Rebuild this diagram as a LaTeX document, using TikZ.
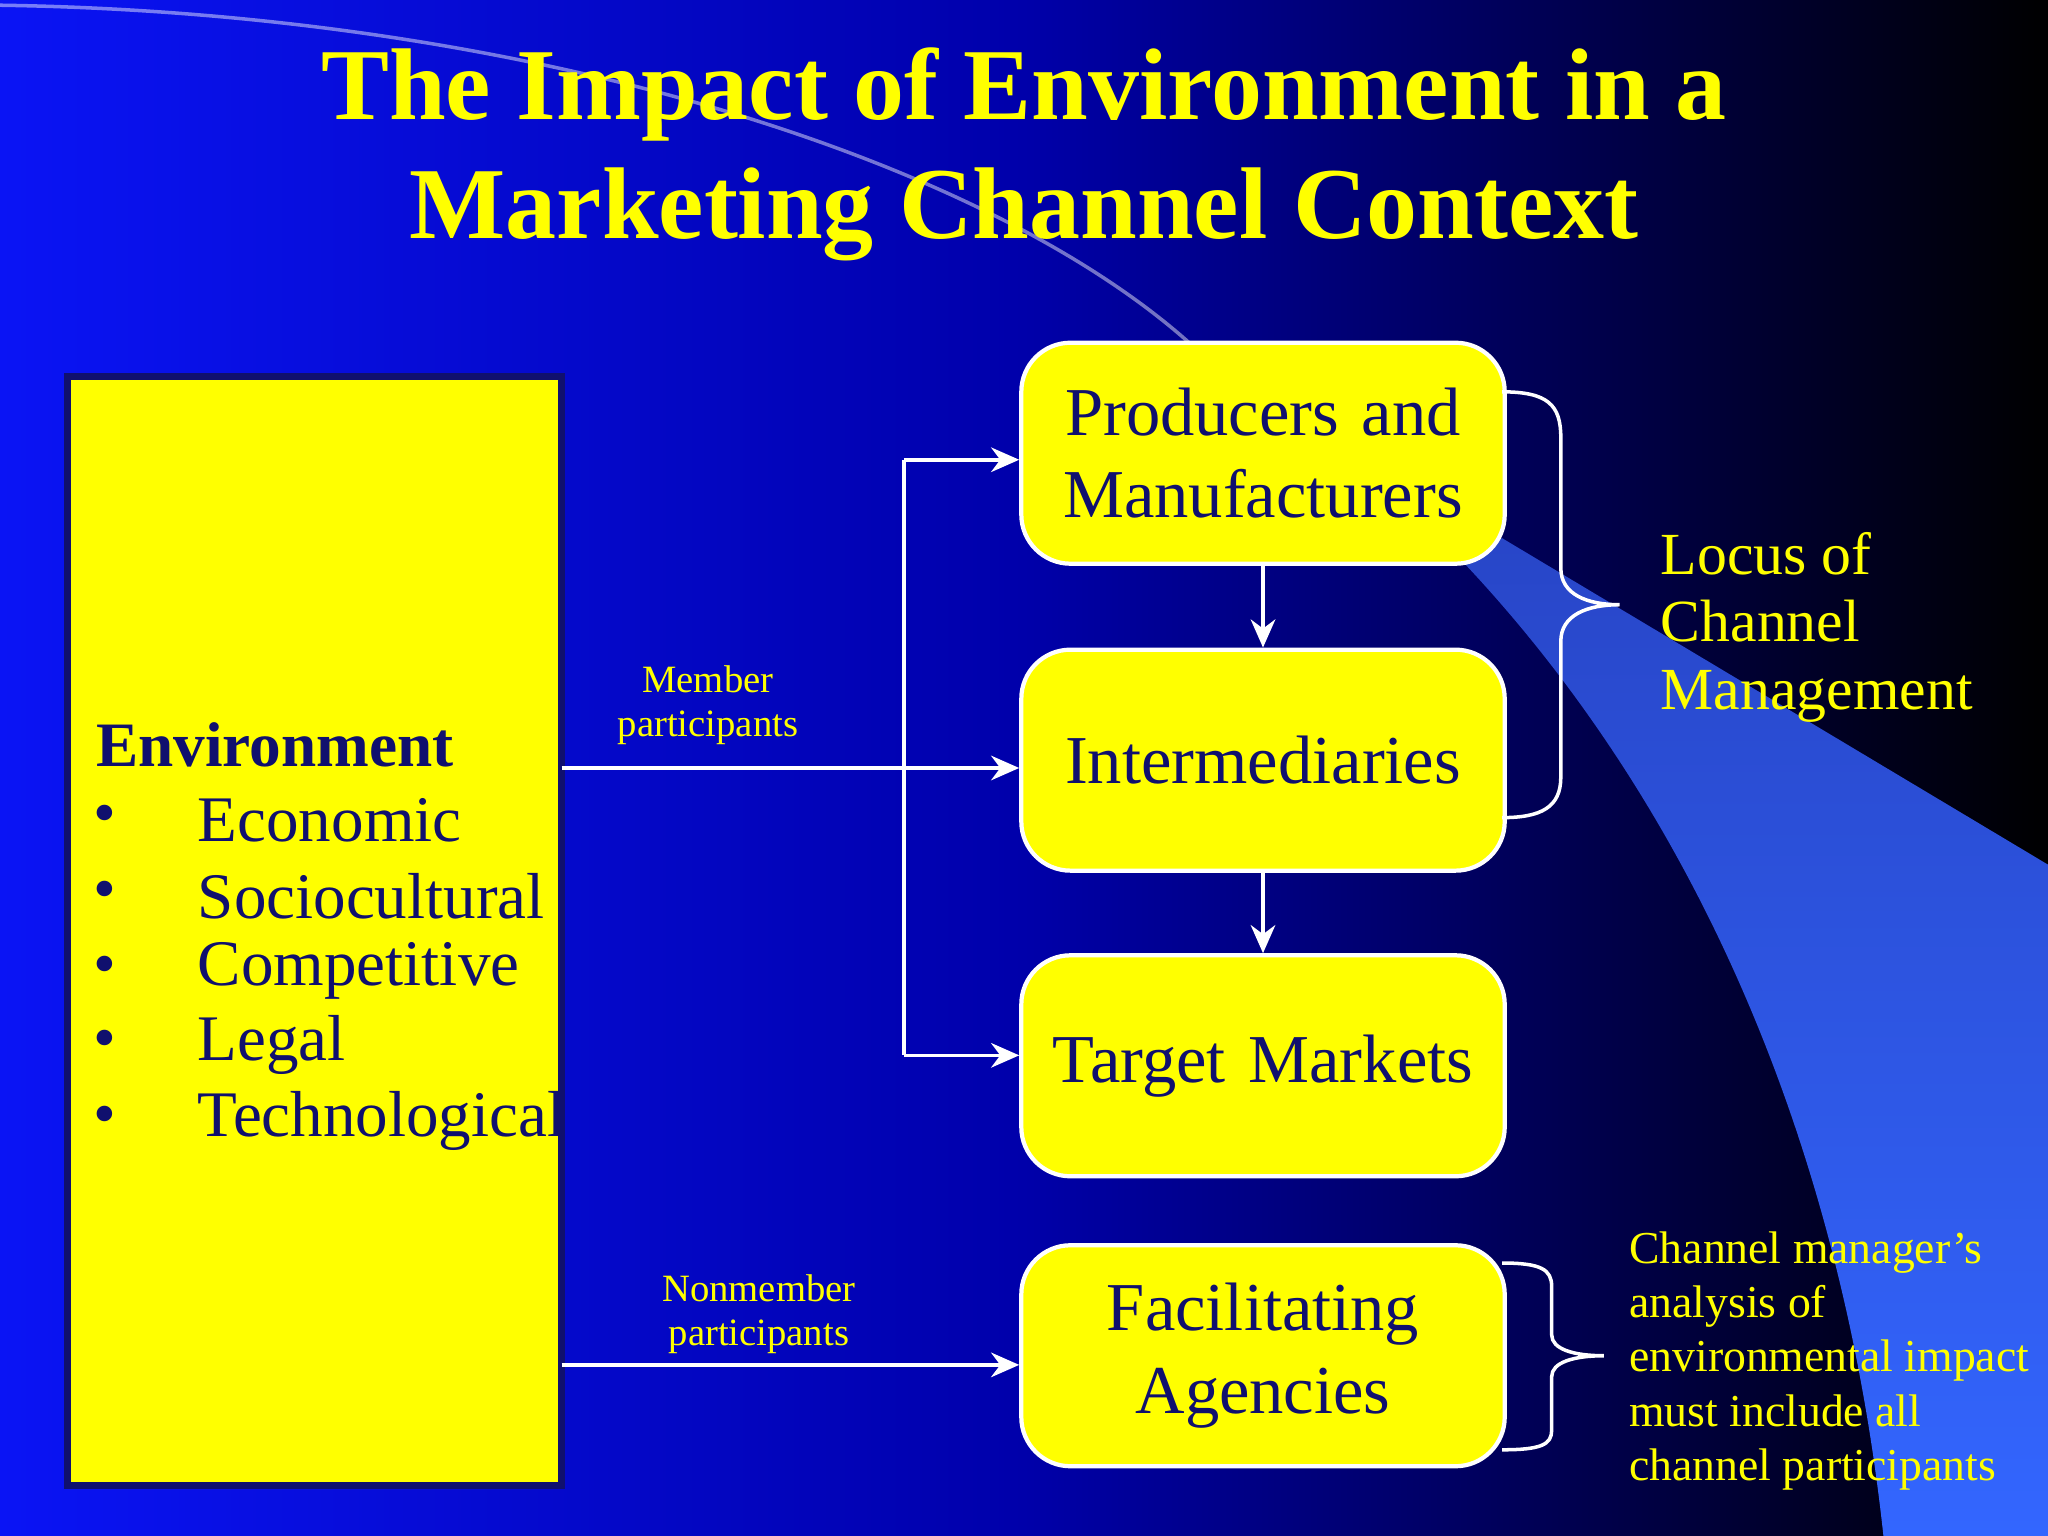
\documentclass[tikz,border=0pt]{standalone}
\usepackage{fontspec}
\setmainfont{Liberation Serif}
\usetikzlibrary{arrows.meta}
\definecolor{ink}{RGB}{16,16,110}
\definecolor{ylw}{RGB}{255,255,0}
\definecolor{swoosh}{RGB}{51,102,255}
\tikzset{
 box/.style={draw=white,line width=1.2pt,fill=ylw,rounded corners=14pt,minimum width=4.78cm,minimum height=2.21cm,text width=4.6cm,text=ink,font=\fontsize{19.5}{23.5}\selectfont,align=center},
 arr/.style={draw=white,line width=1pt,-{Stealth[length=8pt,width=7pt]}},
 lab/.style={text=ylw,align=center,font=\fontsize{11}{12.5}\selectfont},
}
\begin{document}
\begin{tikzpicture}[x=0.01306cm,y=-0.01306cm]
\useasboundingbox (0,0) rectangle (1568,1176);
\shade[left color={rgb,255:red,10;green,20;blue,245}, right color=black, middle color={rgb,255:red,0;green,0;blue,170}] (0,0) rectangle (1568,1176);
% swoosh
\shade[top color={rgb,255:red,40;green,70;blue,200}, bottom color=swoosh] (1118,428) .. controls (1300,620) and (1410,880) .. (1442,1176) -- (1568,1176) -- (1568,662) -- (1150,412) -- cycle;
\draw[white,opacity=0.45,line width=1pt] (0,4) .. controls (400,10) and (750,120) .. (910,262);
% title
\node[text=ylw,font=\bfseries\fontsize{29}{34}\selectfont,align=center] (title) at (784,118) {The Impact of Environment in a\\Marketing Channel Context};
% environment box
\draw[draw=ink,line width=2pt,fill=ylw] (52,288) rectangle (430,1137);
\coordinate (envA) at (430,588);
\coordinate (envB) at (430,1045);
\node[anchor=west,text=ink,font=\bfseries\fontsize{18}{22}\selectfont] (envt) at (64,570) {Environment};
\foreach \t/\y in {Economic/628,Sociocultural/686,Competitive/743,Legal/800,Technological/858}{
 \node[anchor=west,text=ink,font=\fontsize{18.5}{22}\selectfont] at (62,\y) {•};
 \node[anchor=west,text=ink,font=\fontsize{18.5}{22}\selectfont] at (142,\y) {\t};
}
% boxes
\node[box] (prod) at (967,347) {Producers and\\Manufacturers};
\node[box] (inter) at (967,582) {Intermediaries};
\node[box] (target) at (967,816) {Target Markets};
\node[box] (fac) at (967,1038) {Facilitating\\Agencies};
% arrows
\draw[arr] (envA) -- (inter.west |- envA);
\coordinate (vt) at (692,352);
\coordinate (vb) at (692,808);
\draw[white,line width=1pt] (vt) -- (vb);
\draw[arr] (vt) -- (prod.west |- vt);
\draw[arr] (vb) -- (target.west |- vb);
\draw[arr] (prod) -- (inter);
\draw[arr] (inter) -- (target);
\draw[arr] (envB) -- (fac.west |- envB);
% labels
\node[lab] (mem) at (542,540) {Member\\participants};
\node[lab] (nonmem) at (581,1006) {Nonmember\\participants};
% braces
\draw[white,line width=1pt] (1150,300) .. controls (1185,300) and (1195,310) .. (1195,335) -- (1195,435) .. controls (1195,455) and (1215,463) .. (1240,463) .. controls (1215,463) and (1195,471) .. (1195,491) -- (1195,595) .. controls (1195,618) and (1180,626) .. (1150,626);
\draw[white,line width=1pt] (1150,967) .. controls (1180,967) and (1188,972) .. (1188,985) -- (1188,1022) .. controls (1188,1033) and (1205,1038) .. (1228,1038) .. controls (1205,1038) and (1188,1043) .. (1188,1054) -- (1188,1095) .. controls (1188,1106) and (1180,1110) .. (1150,1110);
\node[text=ylw,anchor=west,align=left,font=\fontsize{17}{19.2}\selectfont] (locus) at (1262,480) {Locus of\\Channel\\Management};
\node[text=ylw,anchor=west,align=left,font=\fontsize{13}{15.5}\selectfont] (note) at (1238,1042) {Channel manager’s\\analysis of\\environmental impact\\must include all\\channel participants};
\end{tikzpicture}
\end{document}
